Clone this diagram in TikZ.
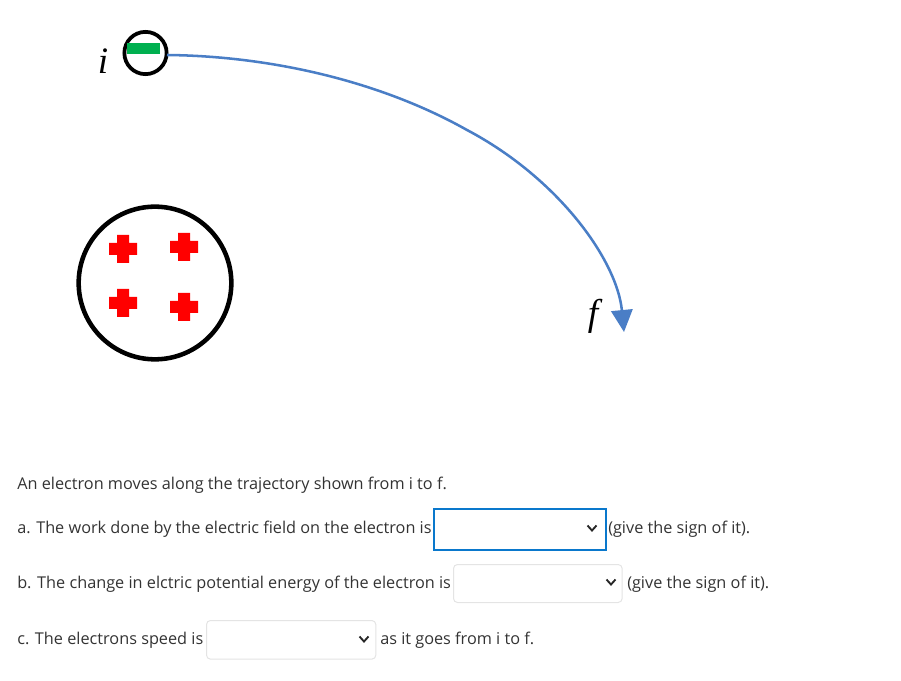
\documentclass[tikz,border=0pt]{standalone}
\usepackage{fontspec}
\setmainfont{Open Sans}
\newfontfamily\labelfont{Liberation Serif}
\usetikzlibrary{arrows.meta}
\definecolor{textGrey}{HTML}{333333}
\definecolor{boxGrey}{HTML}{E4E4E4}
\definecolor{focusBlue}{HTML}{0A78CC}
\definecolor{pathBlue}{HTML}{4A7EC6}
\definecolor{minusGreen}{HTML}{00B050}
\newcommand{\plusmark}[2]{\fill[red] (#1-14,#2-6) -- ++(8,0) -- ++(0,-8) -- ++(12,0) -- ++(0,8) -- ++(8,0) -- ++(0,12) -- ++(-8,0) -- ++(0,8) -- ++(-12,0) -- ++(0,-8) -- ++(-8,0) -- cycle;}
\begin{document}
\begin{tikzpicture}[x=0.75pt, y=-0.75pt]
    \tikzstyle{textStyle} = [anchor=base west, inner sep=0pt, text=textGrey, font=\fontsize{12.2}{14}\selectfont]
    \tikzstyle{labelStyle} = [anchor=base, inner sep=0pt, font=\labelfont\itshape\fontsize{28}{32}\selectfont]
    \tikzstyle{selectBox} = [draw=boxGrey, line width=0.75pt, rounded corners=3pt, fill=white, anchor=north west, inner sep=0pt]
    \tikzstyle{chevron} = [draw=black!85, line width=1.4pt]
    \useasboundingbox (0,0) rectangle (901,681);
    % charges
    \node[circle, draw=black, line width=2.8pt, minimum size=31.7pt, inner sep=0pt, outer sep=0pt] (electron) at (145.5,53) {};
    \fill[minusGreen] (127,43) rectangle (160,54);
    \node[labelStyle] (labelI) at (103,74) {i};
    \node[circle, draw=black, line width=3.4pt, minimum size=114.5pt, inner sep=0pt] (cluster) at (155,283) {};
    \foreach \cx/\cy in {123/249, 184/247, 123/303, 184/307}
        \plusmark{\cx}{\cy}
    % trajectory
    \coordinate (start) at (167,55);
    \coordinate (tip) at (624,332);
    \draw[pathBlue, line width=1.9pt, -{Triangle[length=16.5pt, width=16pt]}] (start) .. controls (270,56) and (380,81) .. (467,130) .. controls (558,178) and (617,260) .. (tip);
    \node[labelStyle] (labelF) at (593,326) {f};
    % question text
    \node[textStyle] (lineIntro) at (17,489) {An electron moves along the trajectory shown from i to f.};
    \node[textStyle] (lineA) at (17,533) {a. The work done by the electric field on the electron is};
    \node[textStyle] (lineB) at (17,588) {b. The change in elctric potential energy of the electron is};
    \node[textStyle] (lineC) at (17,644) {c. The electrons speed is};
    \node[textStyle] (tailA) at (608,533) {(give the sign of it).};
    \node[textStyle] (tailB) at (627,588) {(give the sign of it).};
    \node[textStyle] (tailC) at (380,644) {as it goes from i to f.};
    % dropdowns
    \node[selectBox, draw=focusBlue, line width=1.6pt, minimum width=129pt, minimum height=31pt, rounded corners=0pt] (boxA) at (432.5,507.5) {};
    \node[selectBox, minimum width=126.5pt, minimum height=28.5pt] (boxB) at (453,564) {};
    \node[selectBox, minimum width=127pt, minimum height=29pt] (boxC) at (206,620) {};
    \foreach \cx/\cy in {592/528, 611/582, 364/639}
        \draw[chevron] (\cx-4.5,\cy-2.5) -- (\cx,\cy+2.5) -- (\cx+4.5,\cy-2.5);
\end{tikzpicture}
\end{document}
